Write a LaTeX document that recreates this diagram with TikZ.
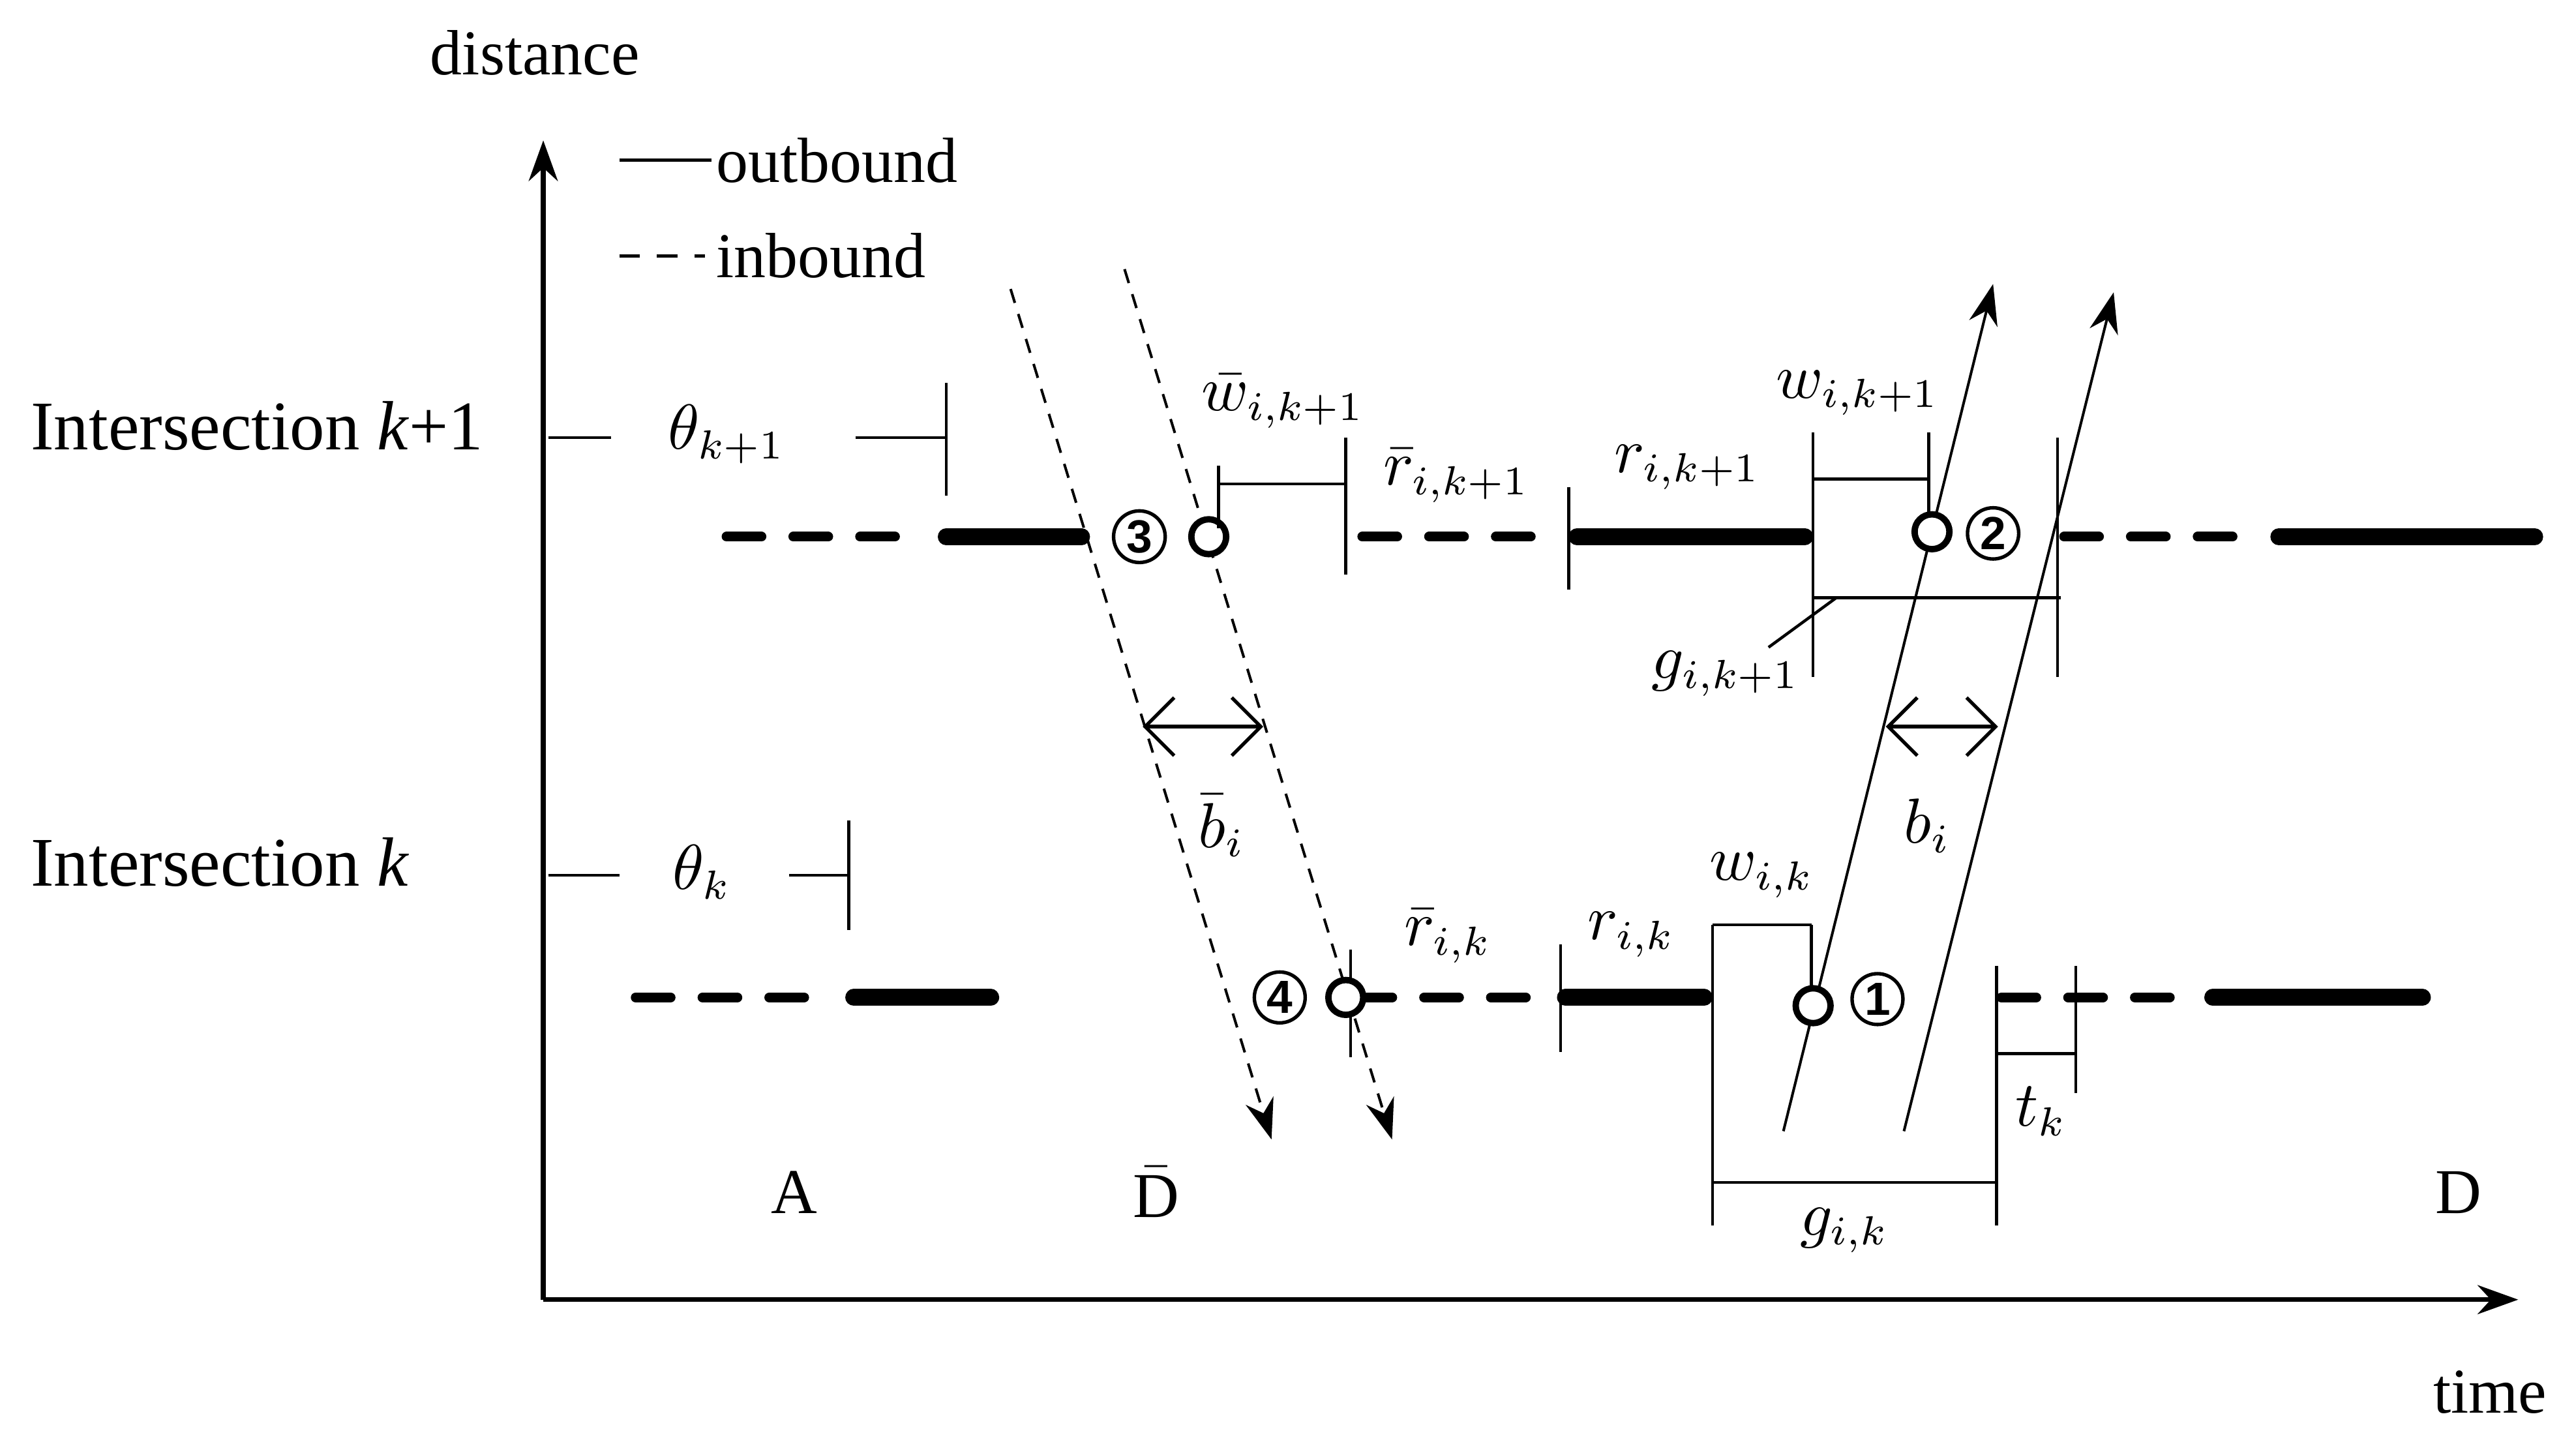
\documentclass[tikz,border=0pt]{standalone}
\usepackage{fontspec}
\setmainfont{Liberation Serif}
\newfontfamily\sansf{Liberation Sans}
\usetikzlibrary{arrows.meta}
\begin{document}
\begin{tikzpicture}[x=0.01cm,y=-0.01cm,
  thin/.style={line width=0.5pt},
  thk/.style={line width=2.9pt,line cap=round},
  dsh/.style={line width=1.7pt,dash pattern=on 6pt off 5.5pt,line cap=round},
  inb/.style={line width=0.45pt,dash pattern=on 2.5pt off 2pt,-{Stealth[length=7pt,width=5pt]}},
  outb/.style={line width=0.45pt,-{Stealth[length=7pt,width=5pt]}},
  dim/.style={line width=0.6pt,{Straight Barb[length=5pt]}-{Straight Barb[length=5pt]}},
  dot/.style={circle,draw,line width=1.1pt,minimum size=6pt,inner sep=0pt},
  num/.style={circle,draw,line width=0.6pt,inner sep=0.6pt,font=\sansf\bfseries\footnotesize},
  lbl/.style={font=\fontsize{10.5}{12}\selectfont,inner sep=1pt},
  big/.style={font=\fontsize{11}{13}\selectfont}]
\useasboundingbox (0,0) rectangle (1560,873);
% axes
\coordinate (O) at (329,787); \coordinate (Yt) at (329,85); \coordinate (Xt) at (1525,787);
\draw[line width=0.8pt,-{Stealth[length=7pt,width=5pt]}] (O) -- (Yt);
\draw[line width=0.8pt,-{Stealth[length=7pt,width=5pt]}] (O) -- (Xt);
\node[big] (dist) at (324,32) {distance};
\node[big] (time) at (1508,843) {time};
% legend
\coordinate (l1a) at (375,97); \coordinate (l1b) at (431,97);
\draw[thin] (l1a) -- (l1b);
\node[big,anchor=west,inner sep=0pt] (lo) at (433,97) {outbound};
\coordinate (l2a) at (375,155); \coordinate (l2b) at (427,155);
\draw[thin,dash pattern=on 3.5pt off 3pt] (l2a) -- (l2b);
\node[big,anchor=west,inner sep=0pt] (li) at (433,155) {inbound};
% intersection labels
\node[font=\fontsize{12}{14}\selectfont,anchor=west,inner sep=0pt] (I1) at (18,258) {Intersection \textit{k}+1};
\node[font=\fontsize{12}{14}\selectfont,anchor=west,inner sep=0pt] (I0) at (18,522) {Intersection \textit{k}};
% theta k+1
\draw[thin] (332,265) -- (370,265);
\node[lbl] (th1) at (440,263) {$\theta_{k+1}$};
\draw[thin] (518,265) -- (573,265); \draw[thin] (573,232) -- (573,300);
% theta k
\draw[thin] (332,530) -- (375,530);
\node[lbl] (th0) at (425,528) {$\theta_{k}$};
\draw[thin] (478,530) -- (514,530); \draw[thin] (514,497) -- (514,563);
% upper signal line
\draw[dsh] (440,325) -- (558,325);
\draw[thk] (573,325) -- (655,325);
\draw[dsh] (825,325) -- (940,325);
\draw[thk] (955,325) -- (1093,325);
\draw[dsh] (1250,325) -- (1365,325);
\draw[thk] (1380,325) -- (1535,325);
% lower signal line
\draw[dsh] (385,604) -- (500,604);
\draw[thk] (517,604) -- (600,604);
\draw[dsh] (822,604) -- (935,604);
\draw[thk] (948,604) -- (1032,604);
\draw[dsh] (1212,604) -- (1330,604);
\draw[thk] (1340,604) -- (1467,604);
% inbound arrows
\coordinate (ia1) at (612,175); \coordinate (ib1) at (770,690);
\coordinate (ia2) at (681,163); \coordinate (ib2) at (843,690);
\draw[inb] (ia1) -- (ib1);
\draw[inb] (ia2) -- (ib2);
\coordinate (bb1) at (692,440); \coordinate (bb2) at (765,440);
\draw[dim] (bb1) -- (bb2);
\node[lbl,fill=white,inner sep=0pt] (bbar) at (740,500) {$\bar{b}_i$};
% outbound arrows
\coordinate (oa1) at (1080,685); \coordinate (ob1) at (1207,172);
\coordinate (oa2) at (1153,685); \coordinate (ob2) at (1280,177);
\draw[outb] (oa1) -- (ob1);
\draw[outb] (oa2) -- (ob2);
\coordinate (b1) at (1142,440); \coordinate (b2) at (1210,440);
\draw[dim] (b1) -- (b2);
\node[lbl] (bi) at (1167,500) {$b_i$};
% upper details
\node[num,fill=white] (n3) at (690,325) {3};
\node[dot,fill=white] (d3) at (732,325) {};
\draw[thin] (738,282) -- (738,320); \draw[thin] (738,293) -- (815,293);
\draw[thin] (815,265) -- (815,348);
\node[lbl,fill=white] (wb1) at (777,243) {$\bar{w}_{i,k+1}$};
\node[lbl] (rb1) at (882,288) {$\bar{r}_{i,k+1}$};
\draw[thin] (950,295) -- (950,357);
\node[lbl] (r1) at (1022,283) {$r_{i,k+1}$};
\draw[thin] (1098,262) -- (1098,410);
\node[lbl] (w1) at (1125,238) {$w_{i,k+1}$};
\draw[thin] (1098,290) -- (1168,290); \draw[thin] (1168,262) -- (1168,316);
\node[dot,fill=white] (d2) at (1170,322) {};
\node[num] (n2) at (1207,323) {2};
\draw[thin] (1246,265) -- (1246,410);
\draw[thin] (1098,362) -- (1248,362);
\node[lbl] (g1) at (1045,408) {$g_{i,k+1}$};
\draw[thin] (1112,362) -- (1071,392);
% lower details
\node[num] (n4) at (775,604) {4};
\draw[thin] (818,575) -- (818,640);
\node[dot,fill=white] (d4) at (815,604) {};
\node[lbl] (rb0) at (877,567) {$\bar{r}_{i,k}$};
\draw[thin] (945,572) -- (945,637);
\node[lbl] (r0) at (988,566) {$r_{i,k}$};
\draw[thin] (1037,560) -- (1037,742);
\node[lbl] (w0) at (1067,530) {$w_{i,k}$};
\draw[thin] (1037,560) -- (1097,560); \draw[thin] (1097,560) -- (1097,602);
\node[dot,fill=white] (d1) at (1098,609) {};
\node[num] (n1) at (1137,605) {1};
\draw[thin] (1209,585) -- (1209,742);
\draw[thin] (1037,716) -- (1209,716);
\node[lbl] (g0) at (1117,745) {$g_{i,k}$};
\draw[thin] (1257,585) -- (1257,662);
\draw[thin] (1209,638) -- (1257,638);
\node[lbl] (tk) at (1236,673) {$t_k$};
% region letters
\node[big] (A) at (481,722) {A};
\node[big] (Db) at (700,722) {$\bar{\mbox{D}}$};
\node[big] (D) at (1489,722) {D};
\end{tikzpicture}
\end{document}
